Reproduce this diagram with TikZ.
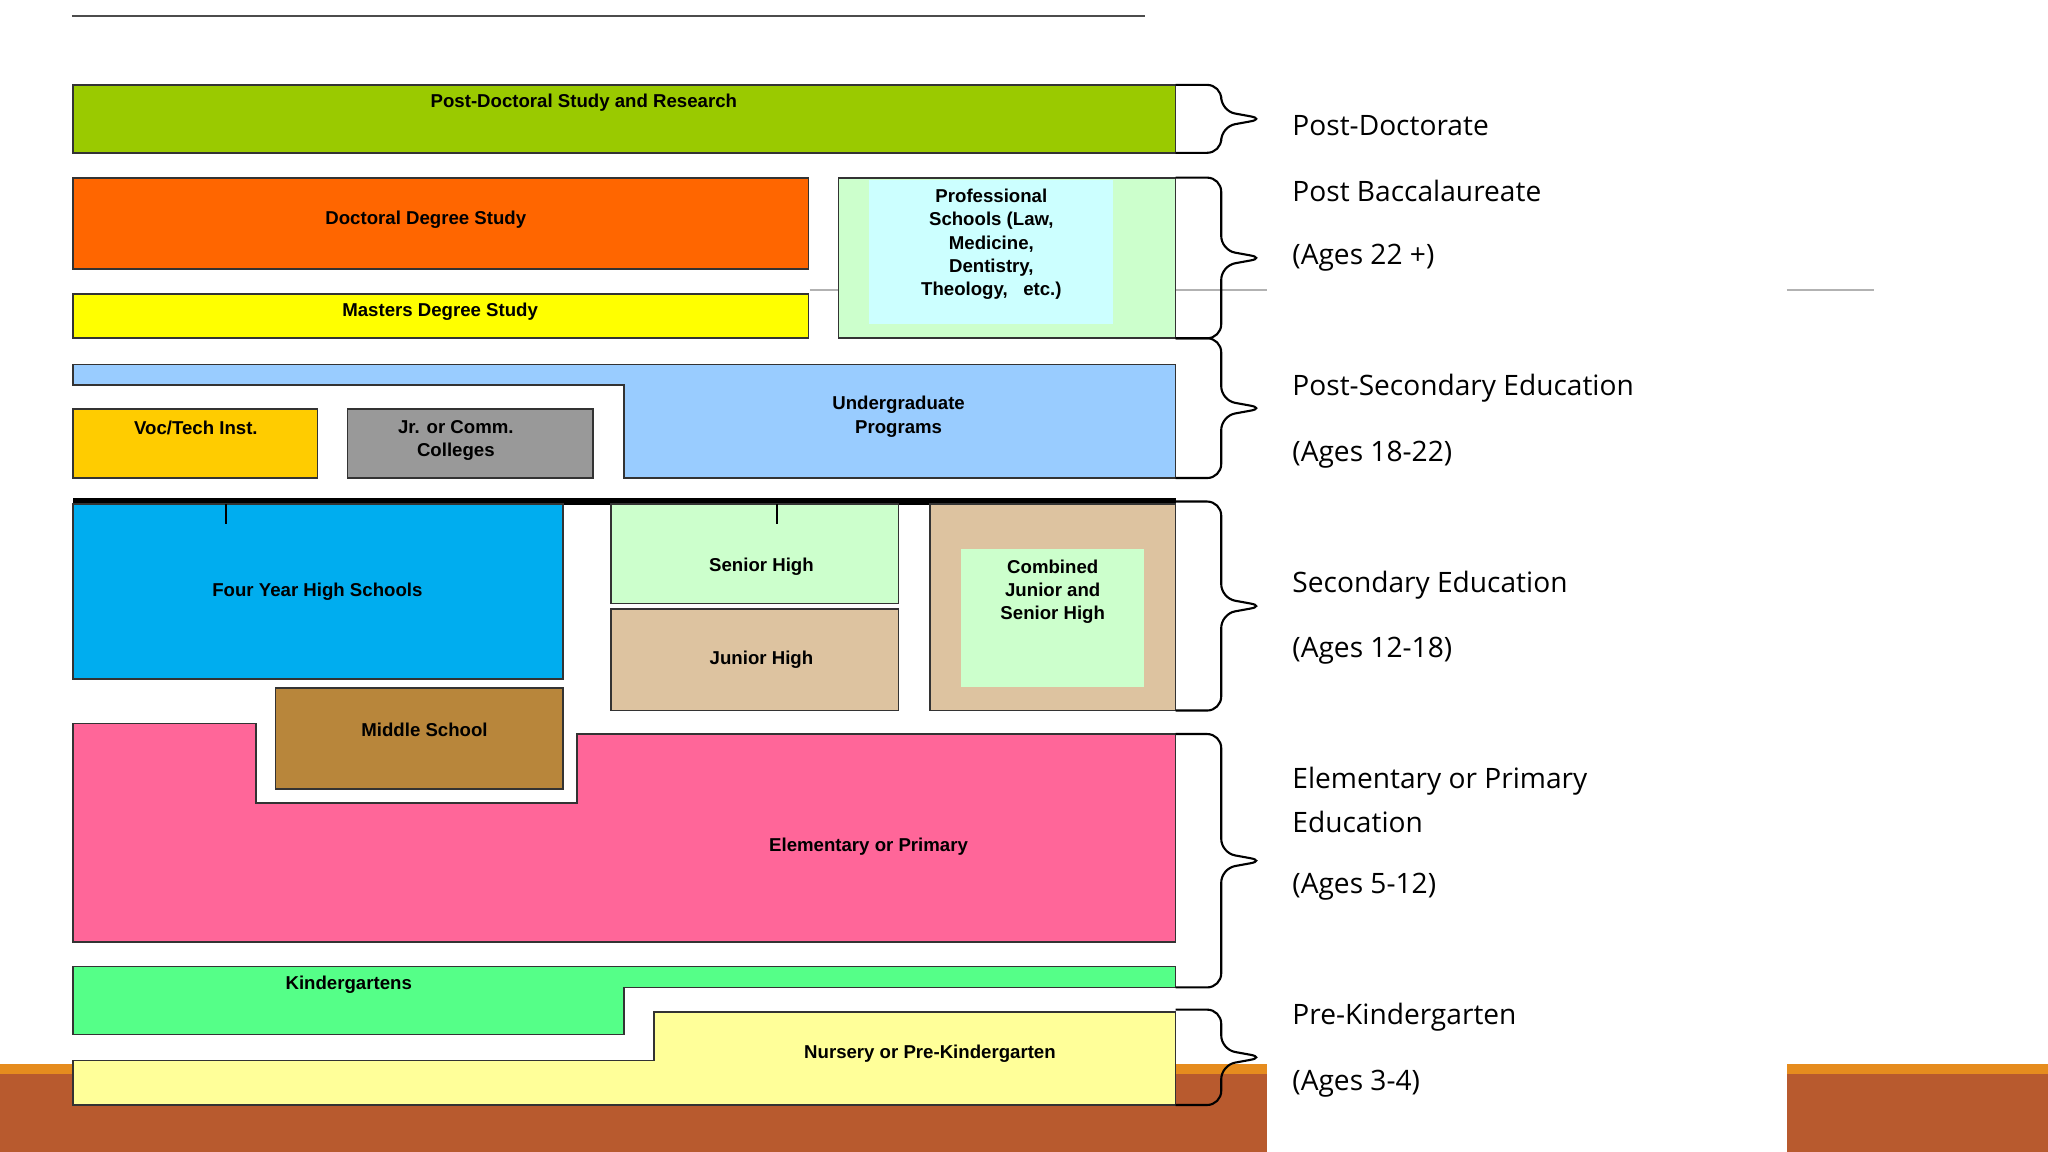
\documentclass[tikz,border=0pt]{standalone}
\usepackage{fontspec}
\setmainfont{Liberation Sans}
\newfontfamily\labelfont{Open Sans}
\usetikzlibrary{positioning}
\definecolor{postdoccolor}{RGB}{154,202,0}
\definecolor{doccolor}{RGB}{255,102,0}
\definecolor{mastercolor}{RGB}{255,255,0}
\definecolor{palegreen}{RGB}{204,255,204}
\definecolor{palecyan}{RGB}{204,255,255}
\definecolor{undergradcolor}{RGB}{153,204,255}
\definecolor{voccolor}{RGB}{255,204,0}
\definecolor{jrcolor}{RGB}{153,153,153}
\definecolor{tancolor}{RGB}{221,195,160}
\definecolor{middlecolor}{RGB}{184,134,59}
\definecolor{elemcolor}{RGB}{255,102,153}
\definecolor{kindercolor}{RGB}{85,255,136}
\definecolor{nurserycolor}{RGB}{255,255,153}
\definecolor{bandcolor}{RGB}{184,90,46}
\definecolor{bandtop}{RGB}{230,140,30}

\begin{document}
\begin{tikzpicture}[x=0.013061cm, y=-0.013061cm,
    block/.style={draw=black!80, line width=0.5pt},
    boxtext/.style={font=\bfseries\fontsize{5.3}{6.6}\selectfont, align=center, inner sep=0pt},
    sidelabel/.style={font=\labelfont\fontsize{8}{10}\selectfont, anchor=west, inner sep=0pt},
    bracket/.style={line width=0.6pt, rounded corners=4pt},
]
    \useasboundingbox (0,0) rectangle (1568,882);
    \fill[white] (0,0) rectangle (1568,882);

    % Bottom band
    \fill[bandcolor] (0,815) rectangle (970,882);
    \fill[bandtop] (0,815) rectangle (970,822);
    \fill[bandcolor] (1368,815) rectangle (1568,882);
    \fill[bandtop] (1368,815) rectangle (1568,822);

    % Thin rules
    \draw[black!70, line width=0.6pt] (55,12) -- (877,12);
    \draw[black!30, line width=0.4pt] (620,222) -- (970,222);
    \draw[black!30, line width=0.4pt] (1368,222) -- (1435,222);

    % Post-doctorate
    \draw[block, fill=postdoccolor] (56,65) rectangle (900,117);
    \node[boxtext] (postdoc) at (447,79) {Post-Doctoral Study and Research};

    % Post baccalaureate
    \draw[block, fill=doccolor] (56,136) rectangle (619,206);
    \node[boxtext] (doctoral) at (326,168) {Doctoral Degree Study};
    \draw[block, fill=mastercolor] (56,225) rectangle (619,259);
    \node[boxtext] (masters) at (337,239) {Masters Degree Study};
    \draw[block, fill=palegreen] (642,136) rectangle (900,259);
    \fill[palecyan] (665,138) rectangle (852,248);
    \node[boxtext] (professional) at (759,187) {Professional\\Schools (Law,\\Medicine,\\Dentistry,\\Theology,\ \ \ etc.)};

    % Post-secondary
    \draw[block, fill=undergradcolor] (56,279) -- (900,279) -- (900,366) -- (478,366) -- (478,295) -- (56,295) -- cycle;
    \node[boxtext] (undergrad) at (688,319) {Undergraduate\\Programs};
    \draw[block, fill=voccolor] (56,313) rectangle (243,366);
    \node[boxtext] (voctech) at (150,328) {Voc/Tech Inst.};
    \draw[block, fill=jrcolor] (266,313) rectangle (454,366);
    \node[boxtext] (jrcomm) at (349,337) {Jr. or Comm.\\Colleges};

    % Secondary
    \draw[line width=2pt] (56,384) -- (900,384);
    \draw[block, fill=cyan] (56,386) rectangle (431,520);
    \draw[black] (173,386) -- (173,401);
    \node[boxtext] (fouryear) at (243,453) {Four Year High Schools};
    \draw[block, fill=palegreen] (468,386) rectangle (688,462);
    \draw[black] (595,386) -- (595,401);
    \node[boxtext] (senior) at (583,434) {Senior High};
    \draw[block, fill=tancolor] (468,466) rectangle (688,544);
    \node[boxtext] (junior) at (583,505) {Junior High};
    \draw[block, fill=tancolor] (712,386) rectangle (900,544);
    \fill[palegreen] (736,420) rectangle (876,526);
    \node[boxtext] (combined) at (806,453) {Combined\\Junior and\\Senior High};

    % Elementary
    \draw[block, fill=middlecolor] (211,527) rectangle (431,604);
    \node[boxtext] (middle) at (325,559) {Middle School};
    \draw[block, fill=elemcolor] (56,554) -- (196,554) -- (196,615) -- (442,615) -- (442,562) -- (900,562) -- (900,721) -- (56,721) -- cycle;
    \node[boxtext] (elementary) at (665,648) {Elementary or Primary};

    % Pre-kindergarten
    \draw[block, fill=kindercolor] (56,740) -- (900,740) -- (900,756) -- (478,756) -- (478,792) -- (56,792) -- cycle;
    \node[boxtext] (kinder) at (267,754) {Kindergartens};
    \draw[block, fill=nurserycolor] (501,775) -- (900,775) -- (900,846) -- (56,846) -- (56,812) -- (501,812) -- cycle;
    \node[boxtext] (nursery) at (712,807) {Nursery or Pre-Kindergarten};

    % Braces
    \foreach \top/\bot in {65/117, 136/259, 259/366, 384/544, 562/756, 773/846} {
        \draw[bracket] (900,\top) -- (935,\top) -- (935,{(\top+\bot)/2-6}) -- (968,{(\top+\bot)/2}) -- (935,{(\top+\bot)/2+6}) -- (935,\bot) -- (900,\bot);
    }

    % Stage labels
    \node[sidelabel] (lpostdoc) at (989,96) {Post-Doctorate};
    \node[sidelabel] (lpostbac) at (989,146) {Post Baccalaureate};
    \node[sidelabel] (agepostbac) at (989,197) {(Ages 22 +)};
    \node[sidelabel] (lpostsec) at (989,297) {Post-Secondary Education};
    \node[sidelabel] (agepostsec) at (989,348) {(Ages 18-22)};
    \node[sidelabel] (lsec) at (989,448) {Secondary Education};
    \node[sidelabel] (agesec) at (989,498) {(Ages 12-18)};
    \node[sidelabel] (lelem) at (989,598) {Elementary or Primary};
    \node[sidelabel] (lelemb) at (989,629) {Education};
    \node[sidelabel] (ageelem) at (989,679) {(Ages 5-12)};
    \node[sidelabel] (lprek) at (989,779) {Pre-Kindergarten};
    \node[sidelabel] (ageprek) at (989,830) {(Ages 3-4)};
\end{tikzpicture}
\end{document}
